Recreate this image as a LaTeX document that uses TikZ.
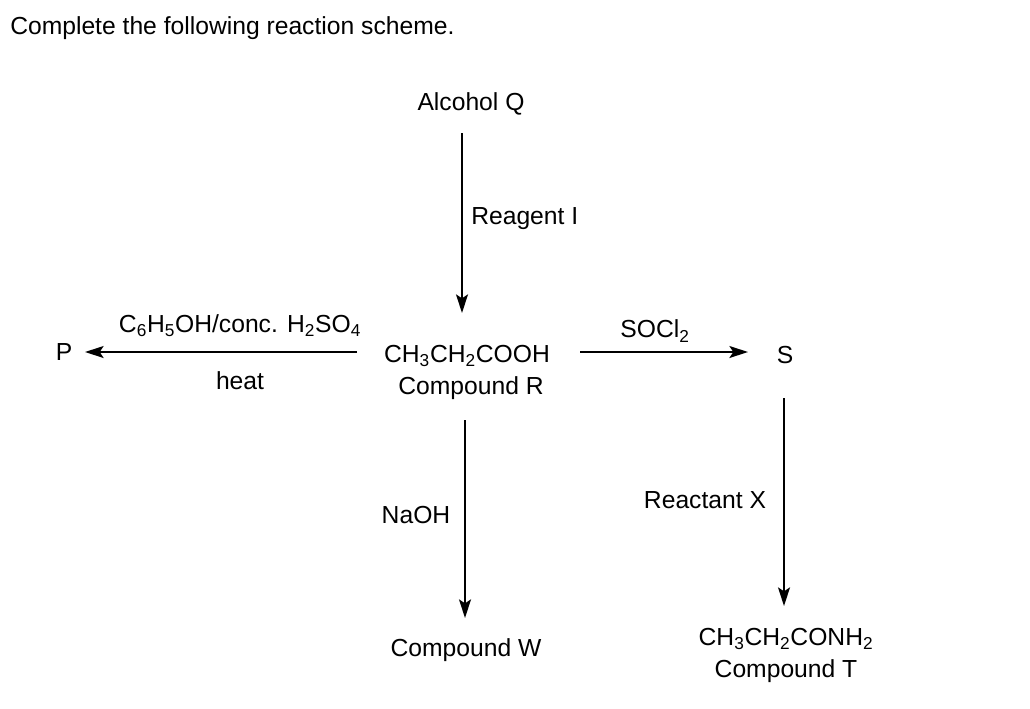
\documentclass[tikz,border=0pt]{standalone}
\usepackage{fontspec}
\setmainfont{Liberation Sans}
\usetikzlibrary{arrows.meta}
\newcommand{\sbs}[1]{\textsubscript{#1}}
\begin{document}
\begin{tikzpicture}[x=0.75pt,y=-0.75pt,
  txt/.style={font=\fontsize{18.5}{22}\selectfont,inner sep=0pt},
  rx/.style={draw,line width=1.1pt,-{Stealth[length=14pt,width=9pt,inset=3pt]}}]
\useasboundingbox (0,0) rectangle (1030,708);
\node[txt,anchor=west] (title) at (10,28) {Complete the following reaction scheme.};
\node[txt] (Q) at (471,104) {Alcohol Q};
\node[txt] (R1) at (467,356) {CH\sbs{3}CH\sbs{2}COOH};
\node[txt] (R2) at (471,388) {Compound R};
\node[txt] (P) at (64,352) {P};
\node[txt] (S) at (785,355) {S};
\node[txt] (W) at (466,650) {Compound W};
\node[txt] (T1) at (786,639) {CH\sbs{3}CH\sbs{2}CONH\sbs{2}};
\node[txt] (T2) at (786,671) {Compound T};
\coordinate (a1) at (462,133); \coordinate (a2) at (462,313);
\coordinate (b1) at (357,352); \coordinate (b2) at (85,352);
\coordinate (c1) at (580,352); \coordinate (c2) at (748,352);
\coordinate (d1) at (465,420); \coordinate (d2) at (465,618);
\coordinate (e1) at (784,398); \coordinate (e2) at (784,606);
\draw[rx] (a1) -- (a2);
\draw[rx] (b1) -- (b2);
\draw[rx] (c1) -- (c2);
\draw[rx] (d1) -- (d2);
\draw[rx] (e1) -- (e2);
\node[txt,anchor=west] (l1) at (471,219) {Reagent I};
\node[txt] (l2) at (240,326) {C\sbs{6}H\sbs{5}OH/conc. H\sbs{2}SO\sbs{4}};
\node[txt] (l3) at (240,381) {heat};
\node[txt] (l4) at (655,331) {SOCl\sbs{2}};
\node[txt] (l5) at (416,515) {NaOH};
\node[txt] (l6) at (705,500) {Reactant X};
\end{tikzpicture}
\end{document}
